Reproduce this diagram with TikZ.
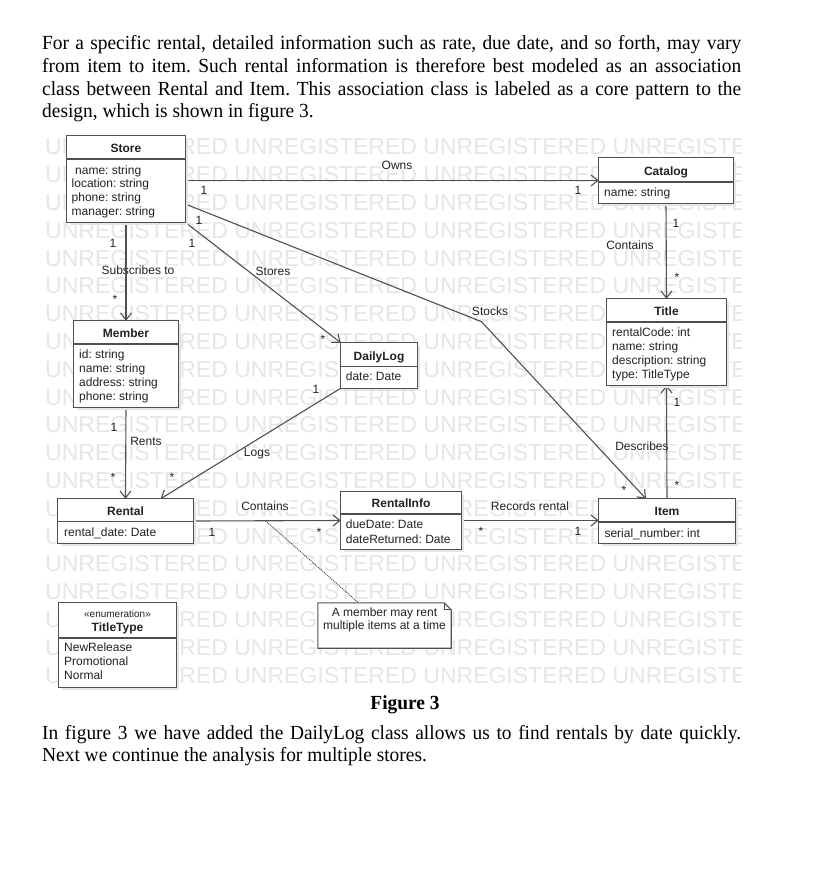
\documentclass[tikz,border=0pt]{standalone}
\usepackage{fontspec}
\setmainfont{Liberation Serif}
\newfontfamily\parafont[FakeStretch=0.97]{Liberation Serif}
\newfontfamily\umlfont{Liberation Sans}
\usetikzlibrary{arrows.meta,shadows,calc}
\definecolor{lc}{HTML}{505050}
\definecolor{tc}{HTML}{222222}
\definecolor{wm}{HTML}{E6E6E6}
\frenchspacing
\tikzset{
  uml/.style={draw=lc, line width=1.1pt, fill=white, inner sep=0pt,
    drop shadow={shadow xshift=3pt, shadow yshift=-3pt, fill=black!10, opacity=1}},
  hdr/.style={font=\umlfont\fontsize{12}{14}\selectfont\bfseries, text=tc, anchor=base, inner sep=0pt},
  attr/.style={font=\umlfont\fontsize{12}{14}\selectfont, text=tc, anchor=base west, inner sep=0pt},
  notetext/.style={font=\umlfont\fontsize{12}{14}\selectfont, text=tc, anchor=base, inner sep=0pt},
  stereo/.style={font=\umlfont\fontsize{10}{12}\selectfont, text=tc, anchor=base, inner sep=0pt},
  lbl/.style={font=\umlfont\fontsize{12}{14}\selectfont, text=tc, fill=white, inner sep=1pt},
  mult/.style={font=\umlfont\fontsize{12}{14}\selectfont, text=tc, inner sep=0pt},
  assoc/.style={draw=lc, line width=1.1pt},
  nav/.style={assoc, -{Straight Barb[length=7pt,width=11pt,line width=1.1pt]}},
  divl/.style={draw=lc, line width=1.1pt},
  para/.style={font=\parafont\fontsize{20}{22}\selectfont\frenchspacing, anchor=base west, inner sep=0pt},
  wmark/.style={font=\umlfont\fontsize{23}{26}\selectfont, text=wm, anchor=west, inner sep=0pt},
}
\begin{document}
\begin{tikzpicture}[x=1pt,y=-1pt]
\useasboundingbox[fill=white] (0,0) rectangle (812,884);

% ---------- text ----------
\node[para] (p1) at (42,49) {\makebox[699pt][s]{For a specific rental, detailed information such as rate, due date, and so forth, may vary}};
\node[para] (p2) at (42,72) {\makebox[699pt][s]{from item to item. Such rental information is therefore best modeled as an association}};
\node[para] (p3) at (42,95) {\makebox[699pt][s]{class between Rental and Item. This association class is labeled as a core pattern to the}};
\node[para] (p4) at (42,117) {design, which is shown in figure 3.};
\node[para, anchor=base, font=\parafont\fontsize{20}{22}\selectfont\bfseries] (cap) at (405,709) {Figure 3};
\node[para] (p5) at (42,739) {\makebox[699pt][s]{In figure 3 we have added the DailyLog class allows us to find rentals by date quickly.}};
\node[para] (p6) at (42,761) {Next we continue the analysis for multiple stores.};

% ---------- watermark ----------
\begin{scope}
  \clip (40,130) rectangle (741,692);
  \foreach \k in {0,...,19} {
    \node[wmark] (wm\k) at (45,{147+27.8*\k}) {UNREGISTERED UNREGISTERED UNREGISTERED UNREGISTERED};
  }
\end{scope}

% ---------- class boxes (geometry) ----------
\node[minimum width=118pt, minimum height=86pt, inner sep=0pt] (store) at (126,179) {};
\node[minimum width=134pt, minimum height=45pt, inner sep=0pt] (catalog) at (666,180.5) {};
\node[minimum width=119pt, minimum height=86pt, inner sep=0pt] (title) at (666.5,342) {};
\node[minimum width=104pt, minimum height=86pt, inner sep=0pt] (member) at (126,364) {};
\node[minimum width=76pt, minimum height=45pt, inner sep=0pt] (dailylog) at (379,365.5) {};
\node[minimum width=135pt, minimum height=44pt, inner sep=0pt] (rental) at (125.5,521) {};
\node[minimum width=120pt, minimum height=57pt, inner sep=0pt] (rentalinfo) at (401,520.5) {};
\node[minimum width=136pt, minimum height=44pt, inner sep=0pt] (item) at (667,521) {};
\node[minimum width=117pt, minimum height=84pt, inner sep=0pt] (titletype) at (117.5,645) {};
\node[minimum width=133pt, minimum height=45pt, inner sep=0pt] (note) at (384.5,625.5) {};

% ---------- connector labels ----------
\node[lbl] (lOwns) at (397,165) {Owns};
\node[lbl] (lCont1) at (630,245) {Contains};
\node[lbl] (lDesc) at (642,446) {Describes};
\node[lbl] (lStocks) at (490,311) {Stocks};
\node[lbl] (lStores) at (273,271) {Stores};
\node[lbl] (lSubs) at (138,270) {Subscribes to};
\node[lbl] (lRents) at (146,441) {Rents};
\node[lbl] (lLogs) at (257,454) {Logs};
\node[lbl] (lCont2) at (265,506) {Contains};
\node[lbl] (lRec) at (530,506) {Records rental};

\node[mult] (m1) at (204,190) {1};
\node[mult] (m2) at (578,190) {1};
\node[mult] (m3) at (676,223) {1};
\node[mult] (m4) at (677,277.5) {*};
\node[mult] (m5) at (677,402) {1};
\node[mult] (m6) at (677,485.5) {*};
\node[mult] (m7) at (199,220) {1};
\node[mult] (m8) at (624,490.5) {*};
\node[mult] (m9) at (192,243) {1};
\node[mult] (m10) at (323,339.5) {*};
\node[mult] (m11) at (113,243) {1};
\node[mult] (m12) at (115,299) {*};
\node[mult] (m13) at (114,427) {1};
\node[mult] (m14) at (113,477.5) {*};
\node[mult] (m15) at (316,389) {1};
\node[mult] (m16) at (172,477.5) {*};
\node[mult] (m17) at (212,532) {1};
\node[mult] (m18) at (319,532.5) {*};
\node[mult] (m19) at (481,531.5) {*};
\node[mult] (m20) at (578,531) {1};

% ---------- connectors ----------
\coordinate (stkbend) at (481.5,321.7);
\draw[nav] (store.east |- catalog.west) -- (catalog.west);
\draw[nav] (catalog.south) -- (title.north);
\draw[nav] (item.north) -- (title.south);
\draw[nav] ([yshift=-25pt]store.east) -- (stkbend) -- ([xshift=-21pt]item.north);
\draw[nav] (store.south east) -- (dailylog.north west);
\draw[nav] (store.south) -- (member.north);
\draw[nav] (member.south) -- (rental.north);
\draw[nav] (dailylog.south west) -- ([xshift=35pt]rental.north);
\draw[nav] (rental.east) -- (rentalinfo.west);
\draw[nav] (rentalinfo.east) -- (item.west |- rentalinfo.east);
\coordinate (cmid) at ($(rental.east)!0.49!(rentalinfo.west)$);
\draw[draw=lc, line width=1pt, densely dotted] (cmid) -- ([xshift=-26pt]note.north);

% ---------- boxes drawn ----------
\foreach \b in {store,catalog,title,member,dailylog,rental,rentalinfo,item,titletype} {
  \path[uml] (\b.north west) rectangle (\b.south east);
}
\draw[divl] (67,159) -- (185,159);
\draw[divl] (599,182) -- (733,182);
\draw[divl] (607,322) -- (726,322);
\draw[divl] (74,344) -- (178,344);
\draw[divl] (341,366.5) -- (417,366.5);
\draw[divl] (58,521.5) -- (193,521.5);
\draw[divl] (341,514) -- (461,514);
\draw[divl] (599,522) -- (735,522);
\draw[divl] (59,638) -- (176,638);

% note
\draw[draw=lc, line width=1.1pt, fill=white] (note.north west) -- ([xshift=-7pt]note.north east) -- ([yshift=-7pt]note.north east) -- (note.south east) -- (note.south west) -- cycle;
\draw[draw=lc, line width=0.8pt] ([xshift=-7pt]note.north east) -- ([xshift=-7pt,yshift=-7pt]note.north east) -- ([yshift=-7pt]note.north east);
\node[notetext] (n1) at (384.5,616.7) {A member may rent};
\node[notetext] (n2) at (384.5,629.7) {multiple items at a time};

% ---------- box texts ----------
\node[hdr] (hStore) at (126,152.5) {Store};
\node[attr] (aS1) at (75,174) {name: string};
\node[attr] (aS2) at (71.5,187.5) {location: string};
\node[attr] (aS3) at (71.5,201.5) {phone: string};
\node[attr] (aS4) at (71.5,215) {manager: string};

\node[hdr] (hCat) at (666,175.7) {Catalog};
\node[attr] (aC1) at (604,196.3) {name: string};

\node[hdr] (hTitle) at (666.5,315) {Title};
\node[attr] (aT1) at (612,336.7) {rentalCode: int};
\node[attr] (aT2) at (612,350.7) {name: string};
\node[attr] (aT3) at (612,364.7) {description: string};
\node[attr] (aT4) at (612,378) {type: TitleType};

\node[hdr] (hMem) at (126,337.5) {Member};
\node[attr] (aM1) at (79,358) {id: string};
\node[attr] (aM2) at (79,372.5) {name: string};
\node[attr] (aM3) at (79,386.5) {address: string};
\node[attr] (aM4) at (79,400) {phone: string};

\node[hdr] (hLog) at (379,360) {DailyLog};
\node[attr] (aL1) at (345.7,380.7) {date: Date};

\node[hdr] (hRent) at (125.5,515) {Rental};
\node[attr] (aR1) at (64,536.5) {rental\_date: Date};

\node[hdr] (hRI) at (401,507.5) {RentalInfo};
\node[attr] (aRI1) at (345.7,528) {dueDate: Date};
\node[attr] (aRI2) at (345.7,543) {dateReturned: Date};

\node[hdr] (hItem) at (667,515) {Item};
\node[attr] (aI1) at (604.3,537) {serial\_number: int};

\node[stereo] (sTT) at (117.5,617) {«enumeration»};
\node[hdr] (hTT) at (117.5,631) {TitleType};
\node[attr] (aTT1) at (64,651.7) {NewRelease};
\node[attr] (aTT2) at (64,665.7) {Promotional};
\node[attr] (aTT3) at (64,679.7) {Normal};
\end{tikzpicture}
\end{document}
